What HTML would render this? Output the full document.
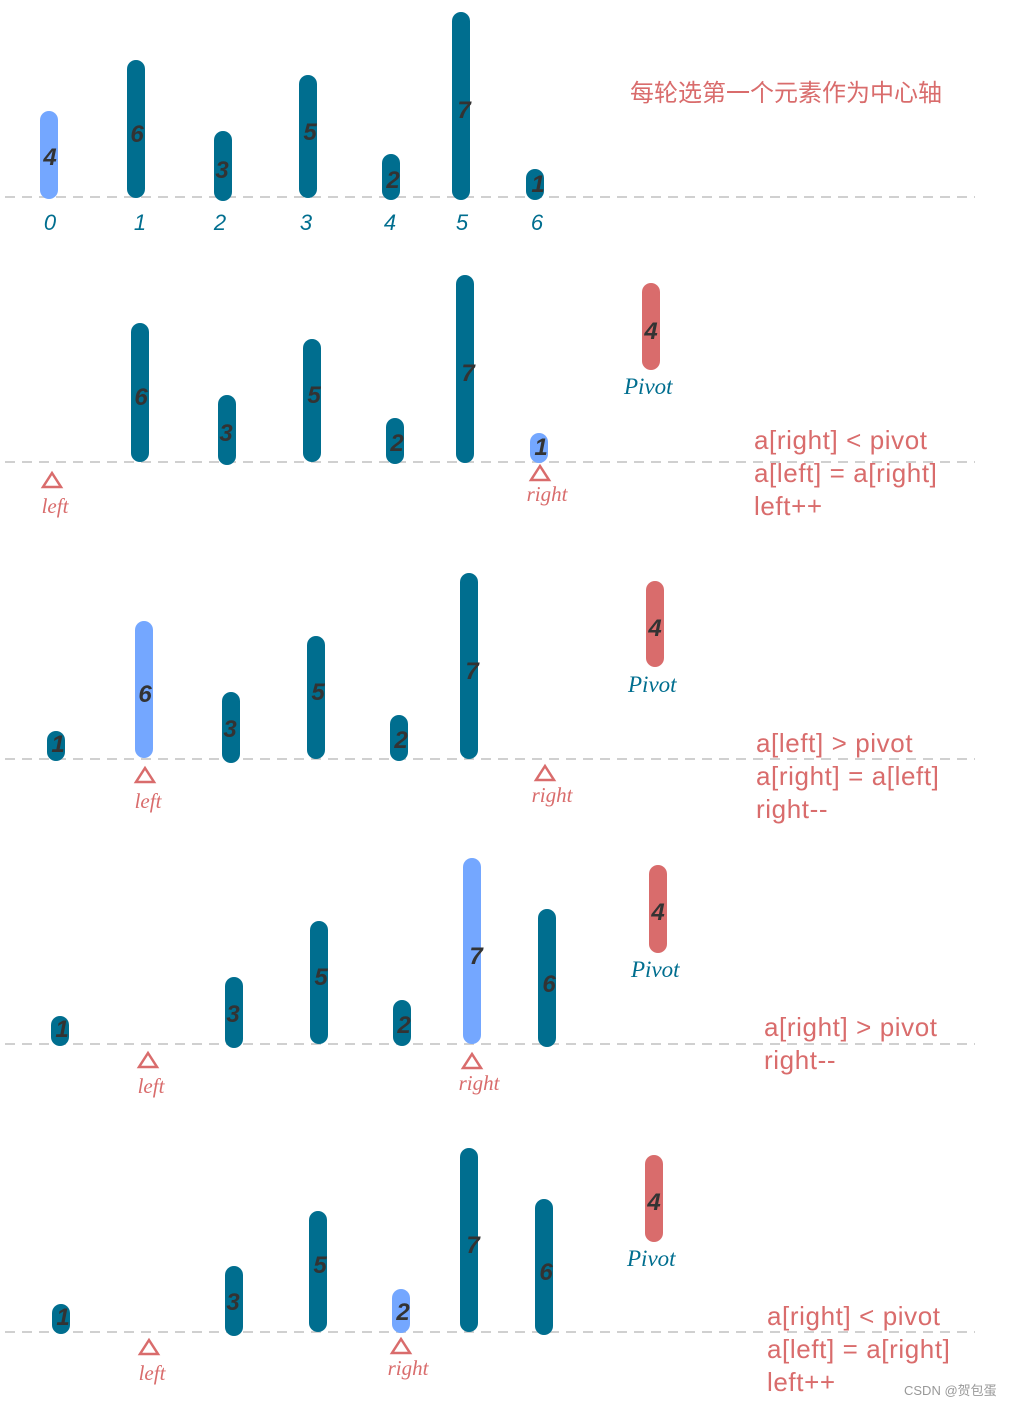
<!DOCTYPE html>
<html><head><meta charset="utf-8"><style>
html,body{margin:0;padding:0;background:#fff;}
svg{display:block;}
.t{fill:#006e8f}.b{fill:#74a7ff}.r{fill:#d96c6c}
.d{font-family:"Liberation Sans",sans-serif;font-size:24px;font-weight:bold;fill:#333;text-anchor:middle;font-style:italic}
.ix{font-family:"Liberation Sans",sans-serif;font-size:22px;fill:#006e8f;text-anchor:middle;font-style:italic}
.pv{font-family:"Liberation Serif",serif;font-size:23px;fill:#006e8f;font-style:italic}
.lr{font-family:"Liberation Serif",serif;font-size:21px;fill:#d96c6c;font-style:italic;text-anchor:middle}
.tx{font-family:"Liberation Sans",sans-serif;font-size:26px;fill:#d96c6c;letter-spacing:0.6px}
.dl{stroke:#d0d0d0;stroke-width:2;stroke-dasharray:10 7}
.tri{fill:none;stroke:#d96c6c;stroke-width:2.5}
</style></head><body>
<svg width="1019" height="1407" viewBox="0 0 1019 1407" xmlns="http://www.w3.org/2000/svg">
<!-- Row 1 -->
<line class="dl" x1="5" y1="197" x2="975" y2="197"/>
<rect class="b" x="40" y="111" width="18" height="88" rx="9"/>
<rect class="t" x="127" y="60" width="18" height="138" rx="9"/>
<rect class="t" x="214" y="131" width="18" height="70" rx="9"/>
<rect class="t" x="299" y="75" width="18" height="123" rx="9"/>
<rect class="t" x="382" y="154" width="18" height="46" rx="9"/>
<rect class="t" x="452" y="12" width="18" height="188" rx="9"/>
<rect class="t" x="526" y="169" width="18" height="31" rx="9"/>
<text class="d" x="50" y="165">4</text><text class="d" x="137" y="142">6</text><text class="d" x="222" y="178">3</text>
<text class="d" x="310" y="140">5</text><text class="d" x="393" y="188">2</text><text class="d" x="464" y="118">7</text><text class="d" x="538" y="192">1</text>
<text class="ix" x="50" y="230">0</text><text class="ix" x="140" y="230">1</text><text class="ix" x="220" y="230">2</text><text class="ix" x="306" y="230">3</text>
<text class="ix" x="390" y="230">4</text><text class="ix" x="462" y="230">5</text><text class="ix" x="537" y="230">6</text>
<text class="tx" x="630" y="101" style="font-family:'Liberation Sans','Noto Sans CJK SC',sans-serif;font-size:24px;letter-spacing:0">每轮选第一个元素作为中心轴</text>

<!-- Row 2 -->
<line class="dl" x1="5" y1="462" x2="975" y2="462"/>
<rect class="t" x="131" y="323" width="18" height="139" rx="9"/>
<rect class="t" x="218" y="395" width="18" height="70" rx="9"/>
<rect class="t" x="303" y="339" width="18" height="123" rx="9"/>
<rect class="t" x="386" y="418" width="18" height="46" rx="9"/>
<rect class="t" x="456" y="275" width="18" height="188" rx="9"/>
<rect class="b" x="530" y="433" width="18" height="30" rx="9"/>
<rect class="r" x="642" y="283" width="18" height="87" rx="9"/>
<text class="d" x="141" y="405">6</text><text class="d" x="226" y="441">3</text><text class="d" x="314" y="403">5</text>
<text class="d" x="397" y="451">2</text><text class="d" x="468" y="381">7</text><text class="d" x="541" y="455">1</text><text class="d" x="651" y="339">4</text>
<text class="pv" x="624" y="394">Pivot</text>
<polygon class="tri" points="52,473 43,487 61,487"/><text class="lr" x="55" y="513">left</text>
<polygon class="tri" points="540,466 531,480 549,480"/><text class="lr" x="547" y="501">right</text>
<text class="tx" x="754" y="449">a[right] &lt; pivot</text>
<text class="tx" x="754" y="482">a[left] = a[right]</text>
<text class="tx" x="754" y="515">left++</text>

<!-- Row 3 -->
<line class="dl" x1="5" y1="759" x2="975" y2="759"/>
<rect class="t" x="47" y="731" width="18" height="30" rx="9"/>
<rect class="b" x="135" y="621" width="18" height="137" rx="9"/>
<rect class="t" x="222" y="692" width="18" height="71" rx="9"/>
<rect class="t" x="307" y="636" width="18" height="123" rx="9"/>
<rect class="t" x="390" y="715" width="18" height="46" rx="9"/>
<rect class="t" x="460" y="573" width="18" height="186" rx="9"/>
<rect class="r" x="646" y="581" width="18" height="86" rx="9"/>
<text class="d" x="58" y="752">1</text><text class="d" x="145" y="702">6</text><text class="d" x="230" y="737">3</text>
<text class="d" x="318" y="700">5</text><text class="d" x="401" y="748">2</text><text class="d" x="472" y="679">7</text><text class="d" x="655" y="636">4</text>
<text class="pv" x="628" y="692">Pivot</text>
<polygon class="tri" points="145,768 136,782 154,782"/><text class="lr" x="148" y="808">left</text>
<polygon class="tri" points="545,766 536,780 554,780"/><text class="lr" x="552" y="802">right</text>
<text class="tx" x="756" y="752">a[left] &gt; pivot</text>
<text class="tx" x="756" y="785">a[right] = a[left]</text>
<text class="tx" x="756" y="818">right--</text>

<!-- Row 4 -->
<line class="dl" x1="5" y1="1044" x2="975" y2="1044"/>
<rect class="t" x="51" y="1016" width="18" height="30" rx="9"/>
<rect class="t" x="225" y="977" width="18" height="71" rx="9"/>
<rect class="t" x="310" y="921" width="18" height="123" rx="9"/>
<rect class="t" x="393" y="1000" width="18" height="46" rx="9"/>
<rect class="b" x="463" y="858" width="18" height="186" rx="9"/>
<rect class="t" x="538" y="909" width="18" height="138" rx="9"/>
<rect class="r" x="649" y="865" width="18" height="88" rx="9"/>
<text class="d" x="62" y="1037">1</text><text class="d" x="233" y="1022">3</text><text class="d" x="321" y="985">5</text>
<text class="d" x="404" y="1033">2</text><text class="d" x="476" y="964">7</text><text class="d" x="549" y="992">6</text><text class="d" x="658" y="920">4</text>
<text class="pv" x="631" y="977">Pivot</text>
<polygon class="tri" points="148,1053 139,1067 157,1067"/><text class="lr" x="151" y="1093">left</text>
<polygon class="tri" points="472,1054 463,1068 481,1068"/><text class="lr" x="479" y="1090">right</text>
<text class="tx" x="764" y="1036">a[right] &gt; pivot</text>
<text class="tx" x="764" y="1069">right--</text>

<!-- Row 5 -->
<line class="dl" x1="5" y1="1332" x2="975" y2="1332"/>
<rect class="t" x="52" y="1304" width="18" height="30" rx="9"/>
<rect class="t" x="225" y="1266" width="18" height="70" rx="9"/>
<rect class="t" x="309" y="1211" width="18" height="121" rx="9"/>
<rect class="b" x="392" y="1289" width="18" height="44" rx="9"/>
<rect class="t" x="460" y="1148" width="18" height="184" rx="9"/>
<rect class="t" x="535" y="1199" width="18" height="136" rx="9"/>
<rect class="r" x="645" y="1155" width="18" height="87" rx="9"/>
<text class="d" x="63" y="1325">1</text><text class="d" x="233" y="1310">3</text><text class="d" x="320" y="1273">5</text>
<text class="d" x="403" y="1320">2</text><text class="d" x="473" y="1253">7</text><text class="d" x="546" y="1280">6</text><text class="d" x="654" y="1210">4</text>
<text class="pv" x="627" y="1266">Pivot</text>
<polygon class="tri" points="149,1340 140,1354 158,1354"/><text class="lr" x="152" y="1380">left</text>
<polygon class="tri" points="401,1339 392,1353 410,1353"/><text class="lr" x="408" y="1375">right</text>
<text class="tx" x="767" y="1325">a[right] &lt; pivot</text>
<text class="tx" x="767" y="1358">a[left] = a[right]</text>
<text class="tx" x="767" y="1391">left++</text>
<text x="904" y="1395" style="font-family:'Liberation Sans','Noto Sans CJK SC',sans-serif;font-size:13px;fill:#999">CSDN @贺包蛋</text>
</svg>
</body></html>
